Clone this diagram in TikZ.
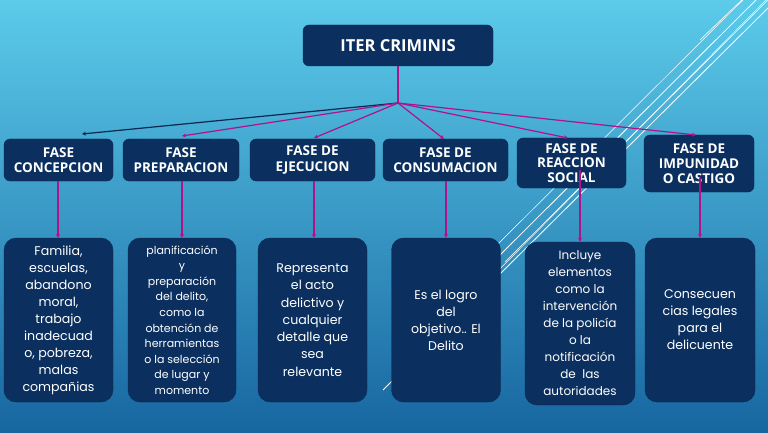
\documentclass[tikz,border=0pt]{standalone}
\usepackage{fontspec}
\setmainfont{Poppins}
\newfontfamily\headfont{Open Sans}
\usetikzlibrary{arrows.meta}
\definecolor{boxblue}{HTML}{0B3060}
\definecolor{topc}{HTML}{5CCBEA}
\definecolor{botc}{HTML}{1766A0}
\definecolor{mag}{HTML}{B0128A}
\definecolor{navy}{HTML}{0B2850}
\begin{document}
\begin{tikzpicture}[x=1pt,y=-1pt,
  hdr/.style={fill=boxblue,draw=navy,rounded corners=6pt,inner sep=0pt,align=center,text=white,font=\headfont\bfseries\fontsize{13.5}{15.5}\selectfont},
  body/.style={fill=boxblue,draw=navy,rounded corners=12pt,inner sep=0pt,align=center,text=white,font=\fontsize{12.6}{17}\selectfont},
  conn/.style={mag,line width=1.2pt,-{Stealth[length=4pt,width=4pt]}}]
\shade[top color=topc,bottom color=botc] (0,0) rectangle (768,433);
\useasboundingbox (0,0) rectangle (768,433);
\foreach \a/\b/\c/\d/\w in {383/390/768/8/0.8, 392/378/768/-2/0.5, 500/255/768/-12/0.8, 496/246/768/-25/0.5, 505/262/768/0/0.5, 700/40/768/-25/0.6}
  \draw[white,line width=\w pt] (\a,\b) -- (\c,\d);
\node[hdr,minimum width=190pt,minimum height=41pt,font=\headfont\bfseries\fontsize{16.5}{18}\selectfont] (t) at (398,45.5) {ITER CRIMINIS};
\coordinate (hub) at (398,103);
\node[hdr,minimum width=109pt,minimum height=42pt] (p1) at (58.5,160) {FASE\\CONCEPCION};
\node[hdr,minimum width=116pt,minimum height=42pt] (p2) at (181,160) {FASE\\PREPARACION};
\node[hdr,minimum width=125pt,minimum height=42pt] (p3) at (312.5,160) {FASE DE\\EJECUCION};
\node[hdr,minimum width=125pt,minimum height=42pt] (p4) at (445.5,160) {FASE DE\\CONSUMACION};
\node[hdr,minimum width=109pt,minimum height=50pt,font=\headfont\bfseries\fontsize{13.5}{14.5}\selectfont] (p5) at (571.5,163) {FASE DE\\REACCION\\SOCIAL};
\node[hdr,minimum width=110pt,minimum height=57pt,font=\headfont\bfseries\fontsize{13.5}{15}\selectfont] (p6) at (699,163.5) {FASE DE\\IMPUNIDAD\\O CASTIGO};
\node[body,minimum width=109pt,minimum height=164pt] (b1) at (58.5,320) {Familia,\\escuelas,\\abandono\\moral,\\trabajo\\inadecuad\\o, pobreza,\\malas\\compañias};
\node[body,minimum width=108pt,minimum height=164pt,font=\fontsize{11}{15.6}\selectfont] (b2) at (182,320) {planificación\\y\\preparación\\del delito,\\como la\\obtención de\\herramientas\\o la selección\\de lugar y\\momento};
\node[body,minimum width=109pt,minimum height=164pt,font=\fontsize{12.6}{17.3}\selectfont] (b3) at (312.5,320) {Representa\\el acto\\delictivo y\\cualquier\\detalle que\\sea\\relevante};
\node[body,minimum width=109pt,minimum height=164pt] (b4) at (446,320) {Es el logro\\del\\objetivo.. El\\Delito};
\node[body,minimum width=110pt,minimum height=163pt,font=\fontsize{12}{17}\selectfont] (b5) at (580,323.5) {Incluye\\elementos\\como la\\intervención\\de la policía\\o la\\notificación\\de \ las\\autoridades};
\node[body,minimum width=110pt,minimum height=164pt] (b6) at (700,320) {Consecuen\\cias legales\\para el\\delicuente};
\draw[mag,line width=1.2pt] (t.south) -- (hub);
\draw[navy,line width=1.2pt,-{Stealth[length=4pt,width=4pt]}] (hub) -- (82,134);
\draw[conn] (hub) -- (182,136);
\draw[conn] (hub) -- (314,138);
\draw[conn] (hub) -- (444,139);
\draw[conn] (hub) -- (568,138);
\draw[conn] (hub) -- (696,135);
\draw[conn] (58,181) -- (58,238);
\draw[conn] (182,181) -- (182,238);
\draw[conn] (314,181) -- (314,238);
\draw[conn] (446,181) -- (b4.north);
\draw[conn] (580,170) -- (b5.north);
\draw[conn] (700,178) -- (b6.north);
\end{tikzpicture}
\end{document}
